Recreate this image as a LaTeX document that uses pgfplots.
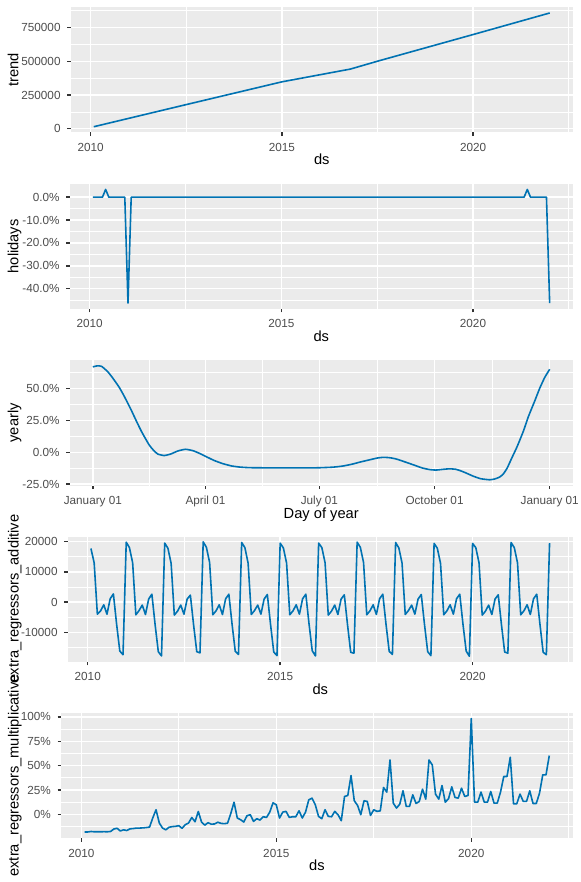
\documentclass[border=0pt]{standalone}
\usepackage{pgfplots}
\pgfplotsset{compat=1.18}
\usepackage{pgfplotstable}
\usepackage{fontspec}
\setmainfont{Liberation Sans}
\definecolor{panel}{HTML}{EBEBEB}
\definecolor{tl}{HTML}{4D4D4D}
\definecolor{tk}{HTML}{333333}
\definecolor{pl}{HTML}{0072B2}
\newcommand\tickfont{\fontsize{11.73}{12}\selectfont}
\newcommand\titlefont{\fontsize{14.67}{15}\selectfont}

\pgfplotstableread{
t trend
2010.083 15000
2012.5 179000
2015.0 347500
2016.79 442000
2017.52 502000
2020.0 698000
2022.0 857500
}\trendtab

\pgfplotstableread{
yr m hol addv mulv
2010 1 0 17700 -18.0
2010 2 0 13000 -18.0
2010 3 0 -4000 -17.5
2010 4 0 -2900 -17.8
2010 5 3.4 -900 -17.8
2010 6 0 -4000 -17.8
2010 7 0 1100 -17.7
2010 8 0 2700 -17.8
2010 9 0 -7300 -17.5
2010 10 0 -16200 -15.0
2010 11 0 -17400 -14.2
2010 12 -46.3 19800 -17.0
2011 1 0 18000 -15.8
2011 2 0 13000 -16.5
2011 3 0 -4200 -14.8
2011 4 0 -2800 -14.5
2011 5 0 -1000 -14.0
2011 6 0 -4100 -14.0
2011 7 0 1000 -13.8
2011 8 0 2600 -13.5
2011 9 0 -7400 -13.0
2011 10 0 -16400 -3.5
2011 11 0 -17800 4.8
2011 12 0 19500 -8.8
2012 1 0 17800 -14.0
2012 2 0 12800 -15.8
2012 3 0 -4300 -13.2
2012 4 0 -3000 -12.5
2012 5 0 -1000 -12.2
2012 6 0 -4000 -11.5
2012 7 0 1000 -14.3
2012 8 0 2300 -10.5
2012 9 0 -7500 -8.8
2012 10 0 -16400 -3.2
2012 11 0 -16800 -7.5
2012 12 0 19900 3.0
2013 1 0 18100 -7.8
2013 2 0 13100 -11.0
2013 3 0 -4200 -8.5
2013 4 0 -2900 -10.0
2013 5 0 -900 -9.8
2013 6 0 -4100 -8.0
2013 7 0 1100 -9.2
2013 8 0 2600 -9.5
2013 9 0 -7300 -9.0
2013 10 0 -16300 1.0
2013 11 0 -17300 12.5
2013 12 0 19700 -3.7
2014 1 0 18000 -5.4
2014 2 0 12900 -7.8
2014 3 0 -4100 -1.3
2014 4 0 -2800 -0.3
2014 5 0 -1000 -7.1
2014 6 0 -4000 -4.4
2014 7 0 1000 -5.8
2014 8 0 2500 -2.4
2014 9 0 -7400 -3.1
2014 10 0 -16500 2.4
2014 11 0 -17700 11.9
2014 12 0 19500 9.9
2015 1 0 17900 -3.7
2015 2 0 12900 2.4
2015 3 0 -4200 3.1
2015 4 0 -2900 -3.1
2015 5 0 -900 -2.4
2015 6 0 -4000 -2.4
2015 7 0 1100 3.7
2015 8 0 2600 -3.7
2015 9 0 -7200 2.4
2015 10 0 -16100 15.0
2015 11 0 -17800 16.7
2015 12 0 19500 9.9
2016 1 0 18000 -2.0
2016 2 0 13000 -4.4
2016 3 0 -4300 4.8
2016 4 0 -3000 -2.0
2016 5 0 -1000 -2.4
2016 6 0 -4100 3.1
2016 7 0 1000 -0.3
2016 8 0 2400 -6.5
2016 9 0 -7500 18.4
2016 10 0 -16600 19.4
2016 11 0 -16900 39.8
2016 12 0 19800 14.0
2017 1 0 18100 9.3
2017 2 0 13100 -0.3
2017 3 0 -4200 14.0
2017 4 0 -2900 13.3
2017 5 0 -900 -1.0
2017 6 0 -4100 4.8
2017 7 0 1100 3.1
2017 8 0 2600 3.7
2017 9 0 -7300 27.6
2017 10 0 -16300 22.9
2017 11 0 -17300 55.8
2017 12 0 19700 11.6
2018 1 0 17900 6.5
2018 2 0 12900 10.5
2018 3 0 -4100 24.2
2018 4 0 -2800 8.2
2018 5 0 -1000 8.2
2018 6 0 -4000 20.1
2018 7 0 1000 11.2
2018 8 0 2500 13.3
2018 9 0 -7400 25.9
2018 10 0 -16400 15.7
2018 11 0 -17700 55.8
2018 12 0 19400 50.7
2019 1 0 17800 20.8
2019 2 0 12800 15.7
2019 3 0 -4200 29.6
2019 4 0 -2900 12.6
2019 5 0 -900 16.0
2019 6 0 -4000 28.3
2019 7 0 1100 17.4
2019 8 0 2600 16.7
2019 9 0 -7300 26.9
2019 10 0 -16200 18.4
2019 11 0 -17900 19.4
2019 12 0 19400 98.3
2020 1 0 18000 12.6
2020 2 0 13000 12.6
2020 3 0 -4300 22.9
2020 4 0 -3000 12.6
2020 5 0 -1000 12.6
2020 6 0 -4100 23.5
2020 7 0 1000 11.6
2020 8 0 2400 11.6
2020 9 0 -7500 22.9
2020 10 0 -16500 38.9
2020 11 0 -16900 38.9
2020 12 0 19700 58.6
2021 1 0 18000 10.9
2021 2 0 13000 10.9
2021 3 0 -4200 20.8
2021 4 0 -2900 13.3
2021 5 3.4 -900 13.3
2021 6 0 -4100 24.2
2021 7 0 1100 11.2
2021 8 0 2600 11.2
2021 9 0 -7300 21.8
2021 10 0 -16600 40.6
2021 11 0 -17400 40.6
2021 12 -46.3 19500 60.3
}\monthly

\pgfplotstableread{
day val
0 66.9
3.5 67.7
7 67.3
12 63.0
16 58.0
21 51.0
25 44.0
30 34.4
35 24.0
39 16.0
45 5.7
49 1.0
52 -1.5
57 -2.6
62 -1.5
68 1.0
74 2.3
80 1.2
85 -0.8
90 -3.2
97 -6.5
104 -9.0
111 -10.8
118 -11.7
125 -12.1
133 -12.2
150 -12.3
162 -12.3
180 -12.2
192 -11.7
200 -10.8
207 -9.4
214 -7.6
221 -6.0
227 -4.6
232 -4.0
237 -4.3
242 -5.2
250 -7.8
257 -10.2
263 -12.3
269 -13.6
274 -14.0
280 -13.4
285 -13.0
290 -13.4
294 -14.6
298 -16.2
304 -18.8
310 -20.8
317 -21.6
321 -21.0
325 -19.5
328 -17.0
331 -12.5
335 -4.0
339 4.4
344 16.5
348 27.9
353 40.0
357 50.0
361 58.5
365 65.0
}\yearly

\pgfplotsset{
  gg/.style={
    scale only axis, anchor=north west,
    axis background/.style={fill=panel},
    axis line style={draw=none},
    tick align=outside, tick pos=left,
    major tick length=3.67pt, minor tick length=0pt,
    tick style={tk, line width=1.42pt},
    grid=both,
    major grid style={white, line width=1.42pt},
    minor grid style={white, line width=0.71pt},
    scaled ticks=false,
    ticklabel style={font=\tickfont, text=tl, inner sep=0pt},
    label style={font=\titlefont, inner sep=0pt},
    xticklabel style={anchor=base, yshift=-15.5pt},
    yticklabel style={anchor=east, xshift=-6.6pt},
    xlabel style={at={(axis description cs:0.5,0)}, anchor=base, yshift=-32.5pt},
  },
  ds/.style={
    xmin=2009.487, xmax=2022.596,
    xtick={2010,2015,2020}, xticklabels={2010,2015,2020},
    minor xtick={2012.5,2017.5,2022.5},
    xlabel={ds},
  },
  ln/.style={pl, line width=1.6pt, line join=round, no markers},
}

\begin{document}
\begin{tikzpicture}
\useasboundingbox (0,0) rectangle (580pt,-882pt);

% trend
\begin{axis}[gg, ds, at={(71pt,-7.3pt)}, width=501.5pt, height=125.1pt,
  ymin=-27125, ymax=899625,
  ytick={0,250000,500000,750000}, yticklabels={0,250000,500000,750000},
  minor ytick={125000,375000,625000,875000},
  ylabel={trend}, ylabel style={at={(axis description cs:-0.1047,0.5)}, anchor=base}]
\addplot[ln] table[x=t, y=trend]{\trendtab};
\end{axis}

% holidays
\begin{axis}[gg, ds, at={(70pt,-183.7pt)}, width=502.5pt, height=125.1pt,
  ymin=-48.8, ymax=5.9,
  ytick={-40,-30,-20,-10,0}, yticklabels={-40.0\%,-30.0\%,-20.0\%,-10.0\%,0.0\%},
  minor ytick={-45,-35,-25,-15,-5},
  ylabel={holidays}, ylabel style={at={(axis description cs:-0.1025,0.5)}, anchor=base}]
\addplot[ln] table[x expr=\thisrow{yr}+\thisrow{m}/12, y=hol]{\monthly};
\end{axis}

% yearly
\begin{axis}[gg, at={(70pt,-360.1pt)}, width=502.5pt, height=125.4pt,
  xmin=-18.25, xmax=383.25,
  xtick={0,90,181,273,365}, xticklabels={January 01,April 01,July 01,October 01,January 01},
  minor xtick={45,135.5,227,319},
  xlabel={Day of year},
  ymin=-26.1, ymax=72.2,
  ytick={-25,0,25,50}, yticklabels={-25.0\%,0.0\%,25.0\%,50.0\%},
  minor ytick={-12.5,12.5,37.5,62.5},
  ylabel={yearly}, ylabel style={at={(axis description cs:-0.1025,0.5)}, anchor=base}]
\addplot[ln, smooth, tension=0.3] table[x=day, y=val]{\yearly};
\end{axis}

% additive
\begin{axis}[gg, ds, at={(68pt,-536.5pt)}, width=504.5pt, height=125.1pt,
  ymin=-19680, ymax=21680,
  ytick={-10000,0,10000,20000}, yticklabels={-10000,0,10000,20000},
  minor ytick={-15000,-5000,5000,15000},
  ylabel={extra\_regressors\_additive}, ylabel style={at={(axis description cs:-0.0981,0.5)}, anchor=base}]
\addplot[ln] table[x expr=\thisrow{yr}+\thisrow{m}/12, y=addv]{\monthly};
\end{axis}

% multiplicative
\begin{axis}[gg, ds, at={(61.3pt,-712.9pt)}, width=511.2pt, height=125.1pt,
  ymin=-24.2, ymax=104.1,
  ytick={0,25,50,75,100}, yticklabels={0\%,25\%,50\%,75\%,100\%},
  minor ytick={-12.5,12.5,37.5,62.5,87.5},
  ylabel={extra\_regressors\_multiplicative}, ylabel style={at={(axis description cs:-0.0837,0.5)}, anchor=base}]
\addplot[ln] table[x expr=\thisrow{yr}+\thisrow{m}/12, y=mulv]{\monthly};
\end{axis}
\end{tikzpicture}
\end{document}
